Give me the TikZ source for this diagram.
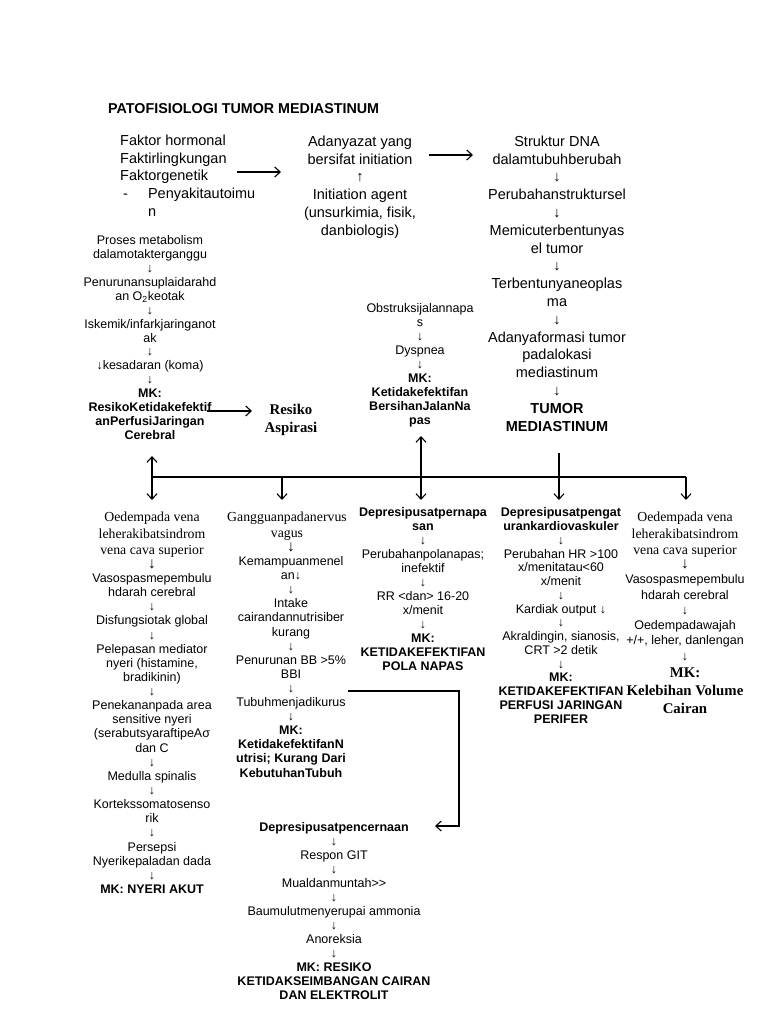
\documentclass[tikz,border=0pt]{standalone}
\usepackage{fontspec}
\setmainfont{Liberation Sans}
\newfontfamily\serifam{Liberation Serif}
\usetikzlibrary{arrows.meta}
\newcommand{\sarr}{{\serifam\fontsize{15.5}{14}\selectfont ↓}}
\tikzset{
 sm/.style={font=\fontsize{12.5}{#1}\selectfont, align=center, inner sep=0pt},
 sm/.default=14.1,
 big/.style={font=\fontsize{14.5}{17.8}\selectfont, align=center, inner sep=0pt},
 ser/.style={font=\serifam\fontsize{13.8}{#1}\selectfont, align=center, inner sep=0pt},
 ser/.default=16.5,
 serb/.style={font=\serifam\bfseries\fontsize{14.8}{#1}\selectfont, align=center, inner sep=0pt},
 serb/.default=18,
 ttl/.style={font=\bfseries\fontsize{14.3}{17}\selectfont, inner sep=0pt},
 ln/.style={line width=1.1pt},
 arr/.style={ln, -{Straight Barb[length=5.5pt,width=10pt]}},
}
\begin{document}
\begin{tikzpicture}[x=1pt,y=-1pt]
\fill[white] (0,0) rectangle (768,1024);
\useasboundingbox (0,0) rectangle (768,1024);

% title
\node[ttl, anchor=west] (title) at (108,109) {PATOFISIOLOGI TUMOR MEDIASTINUM};

% top row
\node[big, align=left, anchor=north west] (faktor) at (120,134.5)
 {Faktor hormonal\\Faktirlingkungan\\Faktorgenetik\\\hspace*{3pt}-\hspace{20pt}Penyakitautoimu\\\hspace*{27.8pt}n};
\node[big, anchor=north] (zat) at (360,135.5)
 {Adanyazat yang\\bersifat initiation\\↑\\Initiation agent\\(unsurkimia, fisik,\\danbiologis)};
\node[big, anchor=north] (dna) at (557,135.5)
 {Struktur DNA\\dalamtubuhberubah\\↓\\Perubahanstruktursel\\↓\\Memicuterbentunyas\\el tumor\\↓\\Terbentunyaneoplas\\ma\\↓\\Adanyaformasi tumor\\padalokasi\\mediastinum\\↓\\\textbf{TUMOR}\\\textbf{MEDIASTINUM}};

\coordinate (p1) at (237,172);
\coordinate (p2) at (281,172);
\draw[arr] (p1) -- (p2);
\coordinate (q1) at (429,155);
\coordinate (q2) at (473,155);
\draw[arr] (q1) -- (q2);

% left upper column
\node[sm=13.9, anchor=north] (meta) at (150,235.5)
 {Proses metabolism\\dalamotakterganggu\\↓\\Penurunansuplaidarahd\\an O\textsubscript{2}keotak\\↓\\Iskemik/infarkjaringanot\\ak\\↓\\↓kesadaran (koma)\\↓\\\textbf{MK:}\\\textbf{ResikoKetidakefektif}\\\textbf{anPerfusiJaringan}\\\textbf{Cerebral}};
\node[serb=18.5, anchor=north] (asp) at (291,404) {Resiko\\Aspirasi};
\coordinate (r1) at (207,411);
\coordinate (r2) at (252,411);
\draw[arr] (r1) -- (r2);

% middle upper column
\node[sm=14.0, anchor=north] (obs) at (420,303.5)
 {Obstruksijalannapa\\s\\↓\\Dyspnea\\↓\\\textbf{MK:}\\\textbf{Ketidakefektifan}\\\textbf{BersihanJalanNa}\\\textbf{pas}};

% bus
\coordinate (b1) at (152,477);
\coordinate (b2) at (282,477);
\coordinate (b3) at (421,477);
\coordinate (b4) at (559,477);
\coordinate (b5) at (686,477);
\coordinate (u1) at (152,456);
\coordinate (u3) at (421,436);
\coordinate (t4) at (559,453);
\coordinate (d1) at (152,500);
\coordinate (d2) at (282,500);
\coordinate (d3) at (421,500);
\coordinate (d4) at (559,500);
\coordinate (d5) at (686,500);
\draw[ln] (b1) -- (b5);
\draw[arr] (b1) -- (u1);
\draw[arr] (b1) -- (d1);
\draw[arr] (b2) -- (d2);
\draw[arr] (b3) -- (u3);
\draw[arr] (b3) -- (d3);
\draw[arr] (t4) -- (d4);
\draw[arr] (b5) -- (d5);

% column 1
\node[ser, anchor=north] (hdr1) at (152,512) {Oedempada vena\\leherakibatsindrom\\vena cava superior};
\node[sm=14.13, anchor=north] (body1) at (152,559.5)
 {\sarr\\Vasospasmepembulu\\hdarah cerebral\\↓\\Disfungsiotak global\\↓\\Pelepasan mediator\\nyeri (histamine,\\bradikinin)\\↓\\Penekananpada area\\sensitive nyeri\\(serabutsyaraftipeAσ\\dan C\\↓\\Medulla spinalis\\↓\\Kortekssomatosenso\\rik\\↓\\Persepsi\\Nyerikepaladan dada\\↓\\\textbf{MK: NYERI AKUT}};

% column 2
\node[ser=16, anchor=north] (hdr2) at (287,512) {Gangguanpadanervus\\vagus};
\node[sm=14.1, anchor=north] (body2) at (291,542.5)
 {\sarr\\Kemampuanmenel\\an↓\\↓\\Intake\\cairandannutrisiber\\kurang\\↓\\Penurunan BB >5\%\\BBI\\↓\\Tubuhmenjadikurus\\↓\\\textbf{MK:}\\\textbf{KetidakefektifanN}\\\textbf{utrisi; Kurang Dari}\\\textbf{KebutuhanTubuh}};

% column 3
\node[sm=14.0, anchor=north] (resp) at (423,507.5)
 {\textbf{Depresipusatpernapa}\\\textbf{san}\\↓\\Perubahanpolanapas;\\inefektif\\↓\\RR <dan> 16-20\\x/menit\\↓\\\textbf{MK:}\\\textbf{KETIDAKEFEKTIFAN}\\\textbf{POLA NAPAS}};

% column 4
\node[sm=13.75, anchor=north] (kardio) at (561,507.5)
 {\textbf{Depresipusatpengat}\\\textbf{urankardiovaskuler}\\↓\\Perubahan HR >100\\x/menitatau<60\\x/menit\\↓\\Kardiak output ↓\\↓\\Akraldingin, sianosis,\\CRT >2 detik\\↓\\\textbf{MK:}\\\textbf{KETIDAKEFEKTIFAN}\\\textbf{PERFUSI JARINGAN}\\\textbf{PERIFER}};

% column 5
\node[ser, anchor=north] (hdr5) at (685,512) {Oedempada vena\\leherakibatsindrom\\vena cava superior};
\node[sm=15.3, anchor=north] (body5) at (685,559.5)
 {\sarr\\Vasospasmepembulu\\hdarah cerebral\\↓\\Oedempadawajah\\+/+, leher, danlengan\\↓};
\node[serb=18, anchor=north] (mk5) at (685,667.5) {MK:\\Kelebihan Volume\\Cairan};

% digestion branch
\node[sm=14.0, anchor=north] (digest) at (334,822.5)
 {\textbf{Depresipusatpencernaan}\\↓\\Respon GIT\\↓\\Mualdanmuntah>{}>\\↓\\Baumulutmenyerupai ammonia\\↓\\Anoreksia\\↓\\\textbf{MK: RESIKO}\\\textbf{KETIDAKSEIMBANGAN CAIRAN}\\\textbf{DAN ELEKTROLIT}};
\coordinate (c1) at (348,691);
\coordinate (c2) at (459,826);
\coordinate (c3) at (435,826);
\draw[arr] (c1) -- (c1 -| c2) -- (c2) -- (c3);
\end{tikzpicture}
\end{document}
